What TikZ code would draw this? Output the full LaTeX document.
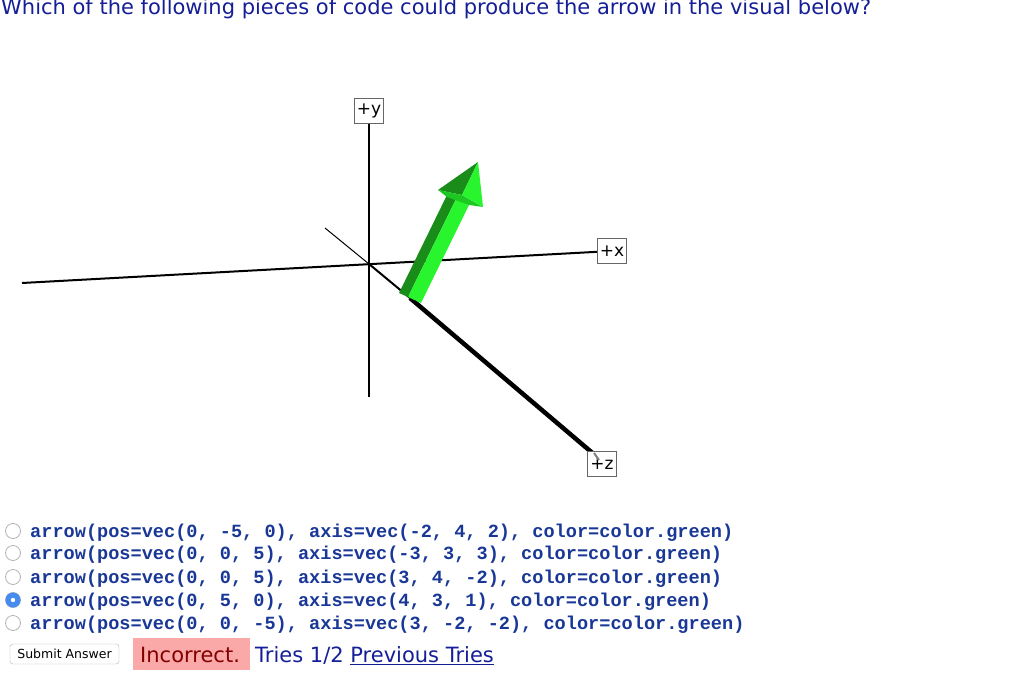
\documentclass[tikz,border=0pt]{standalone}
\usepackage{fontspec}
\setmainfont{DejaVu Sans}
\newfontfamily\monob{Liberation Mono}
\definecolor{ttl}{RGB}{20,30,150}
\definecolor{code}{RGB}{25,55,150}
\definecolor{gl}{RGB}{40,245,45}
\definecolor{gd}{RGB}{25,140,25}
\definecolor{gm}{RGB}{30,200,35}
\definecolor{pinkbg}{RGB}{250,168,168}
\definecolor{darkred}{RGB}{130,0,0}
\definecolor{radio}{RGB}{70,140,240}
\tikzset{lbl/.style={draw=gray!80!black,line width=1.2pt,fill=white,minimum width=29pt,minimum height=25pt,inner sep=0pt,font=\fontsize{17}{17}\selectfont},
codeline/.style={anchor=base west,inner sep=0pt,text=code,font=\monob\bfseries\fontsize{18.6}{18.6}\selectfont},
rad/.style={circle,draw=gray!60,line width=0.8pt,minimum size=15pt,inner sep=0pt}}
\begin{document}
\begin{tikzpicture}[x=1pt,y=-1pt]
\useasboundingbox (0,0) rectangle (1024,684);
\node[anchor=base west,inner sep=0pt,text=ttl,font=\fontsize{21}{21}\selectfont] (title) at (1,15) {Which of the following pieces of code could produce the arrow in the visual below?};
% axes
\coordinate (o) at (369,264);
\coordinate (xl) at (22,283);
\coordinate (zb) at (325,228);
\draw[line width=1.6pt] (369,122) -- (369,397);
\draw[line width=2pt] (xl) -- (612,251);
\draw[line width=1pt] (zb) -- (o);
\draw[line width=2pt] (o) -- (410,298);
\draw[line width=4.5pt] (410,298) -- (596,456);
\node[lbl] (ly) at (369,111) {+y};
\node[lbl] (lx) at (612,251) {+x};
\node[lbl] (lz) at (602,464) {+z};
\draw[line width=2pt,gray] (594,453) -- (599,460);
% green arrow
\fill[gd] (399,293) -- (447,195) -- (456,199) -- (408,297) -- cycle;
\fill[gl] (408,297) -- (456,199) -- (469,205) -- (421,303) -- cycle;
\fill[gd] (438,190) -- (478,162) -- (462,195) -- cycle;
\fill[gm] (438,190) -- (462,195) -- (483,207) -- (469,205) -- (447,197) -- cycle;
\fill[gl] (462,195) -- (478,162) -- (483,207) -- cycle;
% options
\foreach \yy/\t [count=\i] in {531/{arrow(pos=vec(0, -5, 0), axis=vec(-2, 4, 2), color=color.green)},
553/{arrow(pos=vec(0, 0, 5), axis=vec(-3, 3, 3), color=color.green)},
577/{arrow(pos=vec(0, 0, 5), axis=vec(3, 4, -2), color=color.green)},
600/{arrow(pos=vec(0, 5, 0), axis=vec(4, 3, 1), color=color.green)},
623/{arrow(pos=vec(0, 0, -5), axis=vec(3, -2, -2), color=color.green)}}{
  \node[codeline] (c\i) at (30,\yy+6) {\t};
  \node[rad] (r\i) at (13,\yy) {};
}
\fill[radio] (r4.center) circle (7.5pt);
\fill[white] (r4.center) circle (2.2pt);
% bottom
\node[draw=gray!60,rounded corners=3pt,minimum width=109pt,minimum height=20pt,inner sep=0pt,fill=white,font=\fontsize{12.5}{12.5}\selectfont] (sub) at (64.5,654) {Submit Answer};
\node[fill=pinkbg,minimum width=117pt,minimum height=32pt,inner sep=0pt] (inc) at (191.5,654) {};
\node[anchor=base west,inner sep=0pt,text=darkred,font=\fontsize{21}{21}\selectfont] (inct) at (140,662) {Incorrect.};
\node[anchor=base west,inner sep=0pt,text=ttl,font=\fontsize{21}{21}\selectfont] (tries) at (255,662) {Tries 1/2 \underline{Previous Tries}};
\end{tikzpicture}
\end{document}
